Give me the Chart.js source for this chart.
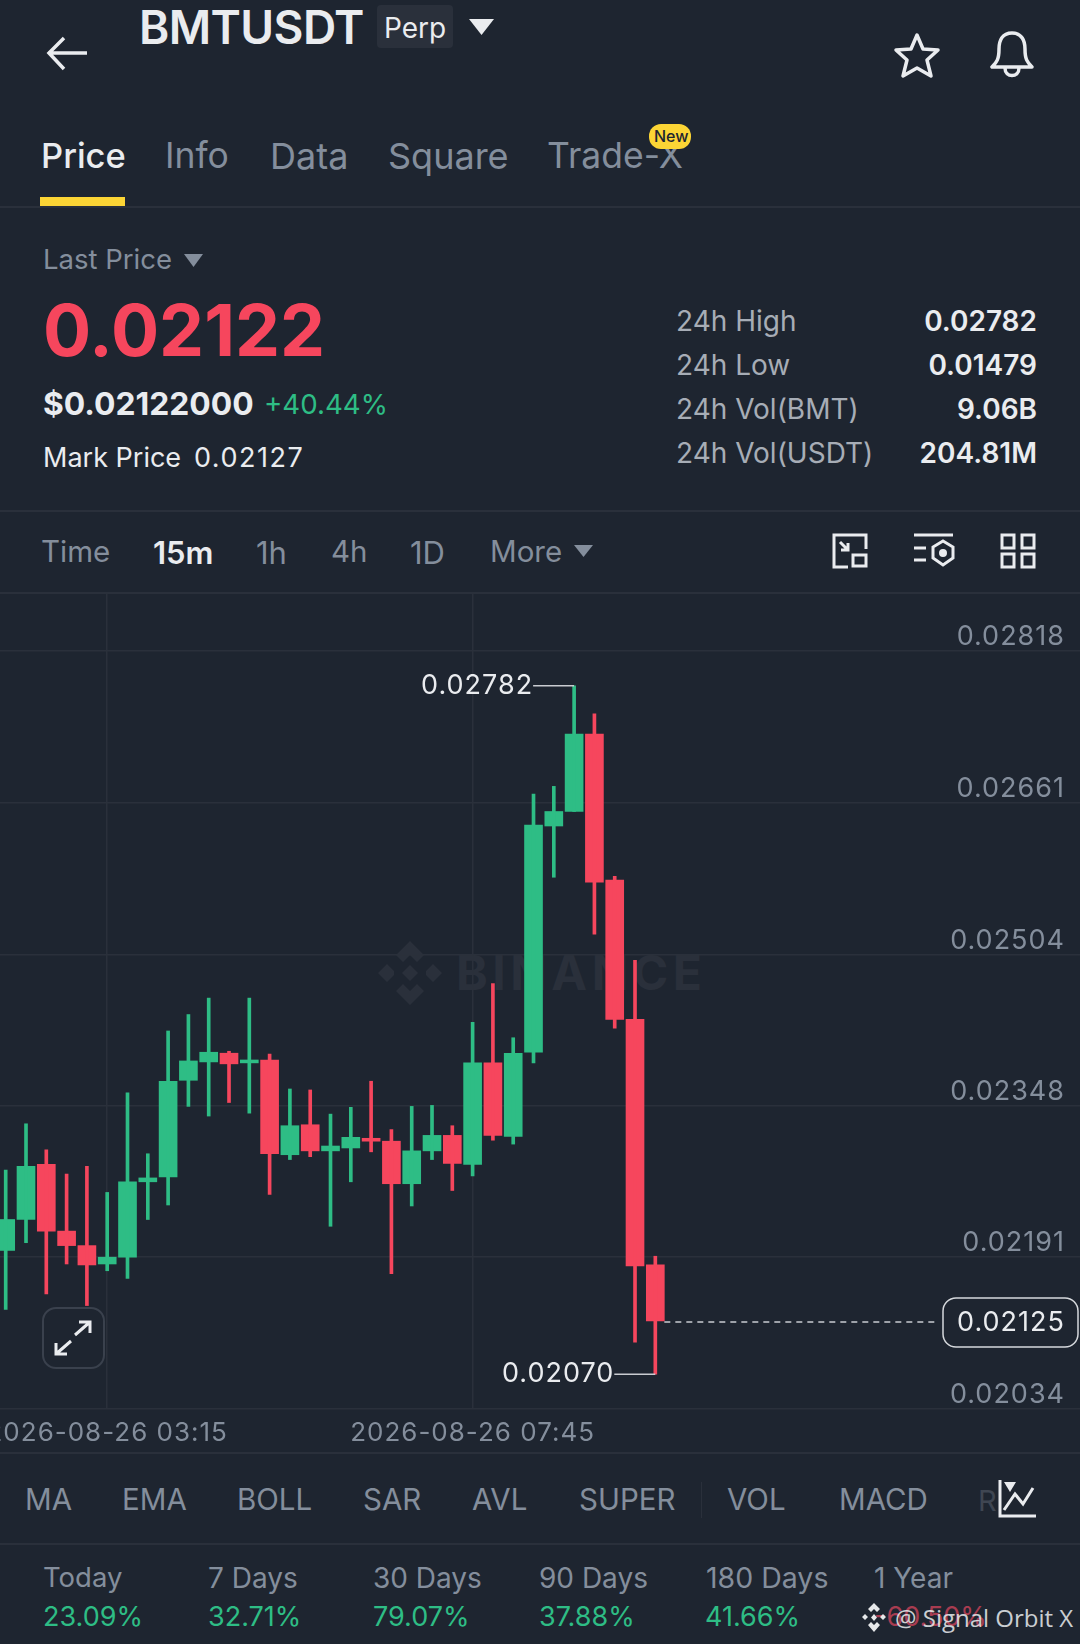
<!DOCTYPE html>
<html>
<head>
<meta charset="utf-8">
<title>BMTUSDT Perp</title>
<script src="https://cdn.jsdelivr.net/npm/chart.js@4/dist/chart.umd.min.js"></script>
<style>
    html, body { margin: 0; padding: 0; background: #1e2530; }
    #page { position: relative; width: 1080px; height: 1644px; overflow: hidden; background: #1e2530; font-family: Inter, sans-serif; }
    .t { position: absolute; white-space: nowrap; transform: translateY(-50%); line-height: 1; }
    .r { transform: translate(-100%, -50%); }
    .g { color: #848e9c; }
    .w { color: #eaecef; }
    .up { color: #2ebd85; }
    .hr { position: absolute; left: 0; width: 1080px; height: 2px; background: #2a303b; }
    svg { position: absolute; overflow: visible; }
    #chart { position: absolute; left: 0; top: 593px; }
</style>
</head>
<body>
<div id="page">
    <!-- top bar -->
    <svg style="left:46px;top:36px" width="44" height="36" fill="none" stroke="#eaecef" stroke-width="3.5"><path d="M2 17H41M18 2L3 17L18 33"/></svg>
    <div class="t w" style="left:139px;top:27px;font-size:46px;font-weight:600;letter-spacing:-.6px">BMTUSDT</div>
    <div style="position:absolute;left:377px;top:5px;width:76px;height:43px;background:#2a303b;border-radius:4px"></div>
    <div class="t w" style="left:384px;top:28px;font-size:28px">Perp</div>
    <svg style="left:469px;top:19px" width="25" height="16"><path d="M0 0H25L12.5 16Z" fill="#eaecef"/></svg>
    <svg style="left:894px;top:32px" width="46" height="46" fill="none" stroke="#eaecef" stroke-width="3.5" stroke-linejoin="round"><path d="M23 3L29 17L44 18L33 28L37 44L23 36L9 44L13 28L2 18L17 17Z"/></svg>
    <svg style="left:990px;top:31px" width="44" height="46" fill="none" stroke="#eaecef" stroke-width="3.5" stroke-linejoin="round"><path d="M22 2C12 2 9 10 9 18C9 28 7 31 2 36H42C37 31 35 28 35 18C35 10 32 2 22 2ZM15 37C15 47 29 47 29 37"/></svg>

    <!-- tabs -->
    <div class="t w" style="left:41px;top:156px;font-size:34.500px;font-weight:500">Price</div>
    <div class="t g" style="left:165px;top:156px;font-size:35.500px">Info</div>
    <div class="t g" style="left:270px;top:156px;font-size:36px">Data</div>
    <div class="t g" style="left:388px;top:156px;font-size:36px">Square</div>
    <div class="t g" style="left:547px;top:156px;font-size:35.500px">Trade-X</div>
    <div style="position:absolute;left:649px;top:124px;width:42px;height:25px;background:#fcd535;border-radius:12px"></div>
    <div class="t" style="left:654px;top:136px;font-size:16px;color:#1e2530;font-weight:500">New</div>
    <div style="position:absolute;left:40px;top:197px;width:85px;height:9px;background:#fcd535"></div>
    <div class="hr" style="top:206px"></div>

    <!-- price block -->
    <div class="t g" style="left:43px;top:260px;font-size:27.500px">Last Price</div>
    <svg style="left:184px;top:254px" width="19" height="13"><path d="M0 0H19L9.5 13Z" fill="#848e9c"/></svg>
    <div class="t" style="left:43px;top:331px;font-size:71.500px;font-weight:700;color:#f6465d">0.02122</div>
    <div class="t w" style="left:43px;top:404px;font-size:31.800px;font-weight:700">$0.02122000</div>
    <div class="t up" style="left:264px;top:405px;font-size:27.700px">+40.44%</div>
    <div class="t w" style="left:43px;top:457px;font-size:27px">Mark Price</div>
    <div class="t w" style="left:194px;top:457px;font-size:27px;letter-spacing:1.5px">0.02127</div>

    <div class="t" style="left:676px;top:321px;font-size:28px;color:#a7adb6">24h High</div>
    <div class="t" style="left:676px;top:365px;font-size:28px;color:#a7adb6">24h Low</div>
    <div class="t" style="left:676px;top:409px;font-size:28px;color:#a7adb6">24h Vol(BMT)</div>
    <div class="t" style="left:676px;top:453px;font-size:28px;color:#a7adb6">24h Vol(USDT)</div>
    <div class="t r w" style="left:1037px;top:321px;font-size:28px;font-weight:600">0.02782</div>
    <div class="t r w" style="left:1037px;top:365px;font-size:28px;font-weight:600">0.01479</div>
    <div class="t r w" style="left:1037px;top:409px;font-size:28px;font-weight:600">9.06B</div>
    <div class="t r w" style="left:1037px;top:453px;font-size:28px;font-weight:600">204.81M</div>
    <div class="hr" style="top:510px"></div>

    <!-- interval row -->
    <div class="t g" style="left:41px;top:552px;font-size:29.500px">Time</div>
    <div class="t w" style="left:153px;top:552px;font-size:31px;font-weight:600">15m</div>
    <div class="t g" style="left:256px;top:552px;font-size:31px">1h</div>
    <div class="t g" style="left:331px;top:552px;font-size:29.500px">4h</div>
    <div class="t g" style="left:410px;top:552px;font-size:31px">1D</div>
    <div class="t g" style="left:490px;top:552px;font-size:29.500px">More</div>
    <svg style="left:574px;top:545px" width="19" height="12"><path d="M0 0H19L9.5 12Z" fill="#848e9c"/></svg>
    <svg style="left:832px;top:533px" width="36" height="36" fill="none" stroke="#eaecef" stroke-width="3"><path d="M16 34H2V2H34V16M8 9L16 17M16 10V17H9"/><rect x="21" y="22" width="13" height="11"/></svg>
    <svg style="left:914px;top:533px" width="40" height="36" fill="none" stroke="#eaecef" stroke-width="3"><path d="M0 2H39M0 15H12M0 27H12M29 8L39 14V25L29 32L19 25V14Z"/><circle cx="29" cy="20" r="2.5" fill="#eaecef"/></svg>
    <svg style="left:1000px;top:533px" width="36" height="36" fill="none" stroke="#eaecef" stroke-width="3"><rect x="2" y="2" width="12" height="13"/><rect x="22" y="2" width="12" height="13"/><rect x="2" y="21" width="12" height="13"/><rect x="22" y="21" width="12" height="13"/></svg>
    <div class="hr" style="top:592px"></div>

    <!-- watermark, sits under the chart canvas -->
    <svg style="left:378px;top:941px" width="64" height="64" fill="#2a303b"><path d="M32 0L46 14L39 21L32 14L25 21L18 14ZM9 23L16 30V34L9 41L0 32ZM55 23L64 32L55 41L48 34V30ZM32 24L40 32L32 40L24 32ZM18 50L25 43L32 50L39 43L46 50L32 64Z"/></svg>
    <div class="t" style="left:456px;top:973px;font-size:48px;font-weight:700;color:#2a303b;letter-spacing:4.500px">BINANCE</div>

    <canvas id="chart" width="1080" height="859"></canvas>

    <!-- expand button -->
    <div style="position:absolute;left:42px;top:1307px;width:59px;height:58px;border:2px solid #3a414d;border-radius:14px;background:#1e2530"></div>
    <svg style="left:54px;top:1320px" width="38" height="36" fill="none" stroke="#eaecef" stroke-width="3"><path d="M21 15L36 2M25 2H36V13M17 21L2 34M2 23V34H13"/></svg>

    <div class="hr" style="top:1452px"></div>

    <!-- indicators -->
    <div class="t g" style="left:25px;top:1500px;font-size:29.500px">MA</div>
    <div class="t g" style="left:122px;top:1500px;font-size:29.500px">EMA</div>
    <div class="t g" style="left:237px;top:1500px;font-size:29.500px">BOLL</div>
    <div class="t g" style="left:363px;top:1500px;font-size:29.500px">SAR</div>
    <div class="t g" style="left:472px;top:1500px;font-size:29.500px">AVL</div>
    <div class="t g" style="left:579px;top:1500px;font-size:29.500px">SUPER</div>
    <div style="position:absolute;left:701px;top:1482px;width:1px;height:36px;background:#2a303b"></div>
    <div class="t g" style="left:727px;top:1500px;font-size:29.500px">VOL</div>
    <div class="t g" style="left:839px;top:1500px;font-size:29.500px">MACD</div>
    <div class="t" style="left:978px;top:1500px;font-size:29px;color:#3f4652">R</div>
    <svg style="left:998px;top:1480px" width="38" height="38" fill="none" stroke="#eaecef" stroke-width="3"><path d="M2 0V36H38M6 30L17 14L25 24L35 8"/><path d="M6 2H18L12 12Z" fill="#eaecef" stroke="none"/></svg>
    <div class="hr" style="top:1543px"></div>

    <!-- performance -->
    <div class="t g" style="left:43px;top:1578px;font-size:27.500px">Today</div>
    <div class="t g" style="left:208px;top:1578px;font-size:28px">7 Days</div>
    <div class="t g" style="left:373px;top:1578px;font-size:28px">30 Days</div>
    <div class="t g" style="left:539px;top:1578px;font-size:28px">90 Days</div>
    <div class="t g" style="left:706px;top:1578px;font-size:28.500px">180 Days</div>
    <div class="t g" style="left:874px;top:1578px;font-size:28px">1 Year</div>
    <div class="t up" style="left:43px;top:1616px;font-size:27px">23.09%</div>
    <div class="t up" style="left:208px;top:1616px;font-size:27px">32.71%</div>
    <div class="t up" style="left:373px;top:1616px;font-size:27px">79.07%</div>
    <div class="t up" style="left:539px;top:1616px;font-size:27px">37.88%</div>
    <div class="t up" style="left:705px;top:1616px;font-size:27px">41.66%</div>
    <div class="t" style="left:874px;top:1616px;font-size:27px;color:#a83c50">-60.50%</div>
    <svg style="left:862px;top:1603px" width="24" height="29" fill="#e6e8ea"><path d="M12 0L18 6L15 9L12 6L9 9L6 6ZM3 11L6 14L3 17L0 14ZM21 11L24 14L21 17L18 14ZM12 11L15 14.500L12 18L9 14.500ZM6 22L9 19L12 22L15 19L18 22L12 29Z"/></svg>
    <div class="t" style="left:895px;top:1618px;font-size:24px;font-family:'Open Sans',sans-serif;color:rgba(235,238,240,.85)">@ Signal Orbit X</div>
</div>

<script>
(function () {
    "use strict";

    // 15m svicky BMTUSDT, index 5 = 03:15, index 23 = 07:45
    const opens = [0.02198, 0.02230, 0.02287, 0.02218, 0.02203, 0.02184, 0.02191, 0.02269, 0.02274, 0.02374, 0.02393,
        0.02402, 0.02392, 0.02395, 0.02297, 0.02328, 0.02301, 0.02304, 0.02314, 0.02311, 0.02267, 0.02301,
        0.02317, 0.02287, 0.02392, 0.02316, 0.02403, 0.02637, 0.02652, 0.02732, 0.02581, 0.02437, 0.02183];
    const highs = [0.02281, 0.02329, 0.02302, 0.02277, 0.02285, 0.02258, 0.02361, 0.02298, 0.02425, 0.02442, 0.02459,
        0.02404, 0.02459, 0.02401, 0.02365, 0.02364, 0.02339, 0.02346, 0.02373, 0.02323, 0.02347, 0.02348,
        0.02327, 0.02434, 0.02474, 0.02418, 0.02670, 0.02678, 0.02782, 0.02753, 0.02585, 0.02498, 0.02192];
    const lows = [0.02137, 0.02206, 0.02153, 0.02184, 0.02141, 0.02177, 0.02169, 0.02230, 0.02245, 0.02347, 0.02337,
        0.02351, 0.02340, 0.02256, 0.02292, 0.02295, 0.02223, 0.02269, 0.02300, 0.02174, 0.02244, 0.02292,
        0.02260, 0.02275, 0.02312, 0.02308, 0.02392, 0.02584, 0.02652, 0.02525, 0.02428, 0.02103, 0.02070];
    const closes = [0.02230, 0.02285, 0.02218, 0.02203, 0.02183, 0.02191, 0.02269, 0.02273, 0.02373, 0.02394, 0.02403,
        0.02391, 0.02395, 0.02298, 0.02327, 0.02301, 0.02306, 0.02315, 0.02311, 0.02267, 0.02301, 0.02317,
        0.02288, 0.02392, 0.02317, 0.02402, 0.02638, 0.02652, 0.02732, 0.02579, 0.02437, 0.02182, 0.02125];

    const priceTicks = [0.02818, 0.02661, 0.02504, 0.02348, 0.02191, 0.02034];
    const timeTickIndexes = [5, 23];
    const timeTickLabels = ["2026-08-26 03:15", "2026-08-26 07:45"];
    const lastPrice = 0.02125;

    const GREEN = "#2ebd85";
    const RED = "#f6465d";
    const GRID = "#2a303b";

    const candleColors = opens.map(function (o, i) { return closes[i] >= o ? GREEN : RED; });

    // kreslenie max/min popisov a aktualnej ceny
    const priceMarks = {
        id: "priceMarks",
        beforeDraw: function (chart) {
            // cisla v povodnom fonte su sirsie, tak trochu rozostup
            chart.ctx.letterSpacing = "1px";
        },
        afterDatasetsDraw: function (chart) {
            const c = chart.ctx, x = chart.scales.x, y = chart.scales.y;
            const hi = highs.indexOf(Math.max.apply(null, highs));
            const lo = lows.indexOf(Math.min.apply(null, lows));
            const last = closes.length - 1;

            c.save();
            c.font = "27px Inter";
            c.textBaseline = "middle";
            c.textAlign = "right";
            c.lineWidth = 1.5;
            c.strokeStyle = "#c9ccd1";

            [[hi, highs[hi]], [lo, lows[lo]]].forEach(function (m) {
                const px = x.getPixelForValue(m[0]), py = y.getPixelForValue(m[1]);
                c.beginPath();
                c.moveTo(px - 41, py);
                c.lineTo(px, py);
                c.stroke();
                c.fillStyle = "#eaecef";
                c.fillText(m[1].toFixed(5), px - 41, py);
            });

            const ly = y.getPixelForValue(lastPrice) + 1;
            c.setLineDash([6, 5]);
            c.beginPath();
            c.moveTo(x.getPixelForValue(last) + 9, ly);
            c.lineTo(939, ly);
            c.stroke();
            c.setLineDash([]);

            c.beginPath();
            c.roundRect(943, ly - 24, 135, 49, 13);
            c.fillStyle = "#1e2530";
            c.fill();
            c.strokeStyle = "#d5d8dc";
            c.stroke();
            c.fillStyle = "#eaecef";
            c.textAlign = "center";
            c.fillText(lastPrice.toFixed(5), 1011, ly + 1);
            c.restore();
        }
    };

    const ctx = document.getElementById("chart");
    new Chart(ctx, {
        type: "bar",
        data: {
            datasets: [{
                label: "wick",
                data: lows.map(function (l, i) { return { x: i, y: [l, highs[i]] }; }),
                backgroundColor: candleColors,
                barThickness: 3,
                grouped: false
            }, {
                label: "body",
                data: opens.map(function (o, i) { return { x: i, y: [o, closes[i]] }; }),
                backgroundColor: candleColors,
                barThickness: 18,
                grouped: false
            }]
        },
        options: {
            responsive: false,
            animation: false,
            layout: { padding: 0 },
            plugins: { legend: { display: false }, tooltip: { enabled: false } },
            scales: {
                x: {
                    type: "linear",
                    offset: false,
                    min: -0.281,
                    max: 52.92,
                    border: { display: false },
                    grid: { offset: false, color: GRID, lineWidth: 1.5, drawTicks: false },
                    afterBuildTicks: function (scale) {
                        scale.ticks = timeTickIndexes.map(function (v) { return { value: v }; });
                    },
                    afterFit: function (scale) {
                        // popisky mozu pretekat mimo platna, plocha grafu ma ostat cela
                        scale.height = 43;
                        scale.paddingLeft = 0;
                        scale.paddingRight = 0;
                    },
                    ticks: {
                        autoSkip: false,
                        maxRotation: 0,
                        padding: 9,
                        color: "#848e9c",
                        font: { family: "Inter", size: 26 },
                        callback: function (v) { return timeTickLabels[timeTickIndexes.indexOf(v)]; }
                    }
                },
                y: {
                    position: "right",
                    min: 0.02034,
                    max: 0.02878,
                    border: { display: false },
                    grid: { color: GRID, lineWidth: 1.5, drawTicks: false },
                    afterBuildTicks: function (scale) {
                        scale.ticks = priceTicks.map(function (v) { return { value: v }; });
                    },
                    afterFit: function (scale) {
                        scale.width = 0;
                        scale.paddingTop = 0;
                        scale.paddingBottom = 0;
                    },
                    ticks: {
                        mirror: true,
                        padding: -15,
                        labelOffset: -14,
                        color: "#848e9c",
                        font: { family: "Inter", size: 27 },
                        callback: function (v) { return v.toFixed(5); }
                    }
                }
            }
        },
        plugins: [priceMarks]
    });
})();
</script>
</body>
</html>
